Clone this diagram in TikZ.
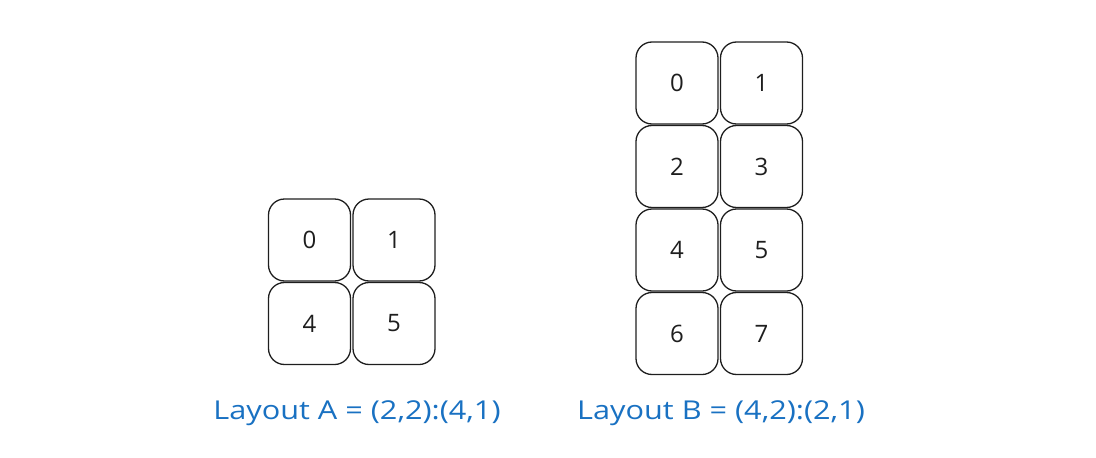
\documentclass[tikz,border=0pt]{standalone}
\usepackage{fontspec}
\setmainfont{Open Sans}
\newfontfamily\labfont[FakeStretch=1.18]{Open Sans}
\definecolor{exblue}{HTML}{1971C2}
\definecolor{exdark}{HTML}{1E1E1E}
\begin{document}
\begin{tikzpicture}[x=1pt,y=-1pt,
  cell/.style={draw=exdark, line width=1.3pt, rounded corners=16pt, minimum width=82pt, minimum height=82pt, inner sep=0pt, font=\fontsize{24}{26}\selectfont, text=exdark},
  lab/.style={text=exblue, font=\labfont\fontsize{26}{30}\selectfont, inner sep=0pt}]
\useasboundingbox (0,0) rectangle (1096,458);
% Layout A
\node[cell] (a0) at (309.5,240) {0};
\node[cell] (a1) at (394,240) {1};
\node[cell] (a4) at (309.5,323.5) {4};
\node[cell] (a5) at (394,323.5) {5};
% Layout B
\node[cell] (b0) at (677,83) {0};
\node[cell] (b1) at (761.5,83) {1};
\node[cell] (b2) at (677,166.5) {2};
\node[cell] (b3) at (761.5,166.5) {3};
\node[cell] (b4) at (677,250) {4};
\node[cell] (b5) at (761.5,250) {5};
\node[cell] (b6) at (677,333.5) {6};
\node[cell] (b7) at (761.5,333.5) {7};
% labels
\node[lab] (la) at (357,413) {Layout A = (2,2):(4,1)};
\node[lab] (lb) at (721,413) {Layout B = (4,2):(2,1)};
\end{tikzpicture}
\end{document}
